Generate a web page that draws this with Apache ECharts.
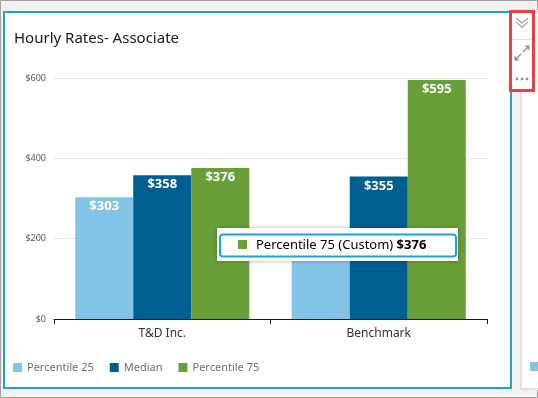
<!DOCTYPE html>
<html lang="en">
<head>
  <meta charset="UTF-8">
  <title>Hourly Rates- Associate</title>
  <script src="https://cdn.jsdelivr.net/npm/echarts@6/dist/echarts.min.js"></script>
  <style>
    html, body {
      margin: 0;
      padding: 0;
      background: #f3f3f3;
      overflow: hidden;
    }
    #main {
      width: 538px;
      height: 398px;
    }
  </style>
</head>
<body>
  <div id="main"></div>

  <script>
    // data
    const categories = ['T&D Inc.', 'Benchmark'];
    const seriesNames = ['Percentile 25', 'Median', 'Percentile 75'];
    const percentile25 = [303, 215];
    const median = [358, 355];
    const percentile75 = [376, 595];
    const seriesColors = ['#84c3e8', '#015e91', '#689f38'];
    const yMin = 0, yMax = 600, yStep = 200;

    // hovered item shown in the tooltip box
    const tipName = seriesNames[2] + ' (Custom)';
    const tipValue = percentile75[0];

    var chartDom = document.getElementById('main');
    var myChart = echarts.init(chartDom);
    var font = '"Noto Sans", sans-serif';

    function barSeries(name, data, color) {
      return {
        name: name,
        type: 'bar',
        data: data,
        barGap: 0,
        barCategoryGap: '19.6%',
        itemStyle: { color: color },
        label: {
          show: true,
          position: 'insideTop',
          distance: 3,
          color: '#ffffff',
          fontWeight: 'bold',
          fontSize: 13,
          fontFamily: font,
          formatter: p => '$' + p.value
        },
        emphasis: { disabled: true }
      };
    }

    var option = {
      animation: false,
      backgroundColor: 'transparent',
      textStyle: { fontFamily: font },
      title: {
        text: 'Hourly Rates- Associate',
        left: 9,
        top: 26,
        textStyle: { fontSize: 15, fontWeight: 'normal', color: '#16191f', fontFamily: font }
      },
      legend: {
        left: 8,
        top: 357,
        icon: 'rect',
        itemWidth: 9,
        itemHeight: 9,
        itemGap: 16,
        selectedMode: false,
        textStyle: { fontSize: 11, color: '#687078', fontFamily: font },
        data: seriesNames
      },
      grid: { left: 54, right: 51, top: 78, bottom: 79 },
      xAxis: {
        type: 'category',
        data: categories,
        axisLine: { lineStyle: { color: '#16191f', width: 1 } },
        axisTick: { show: true, length: 5, lineStyle: { color: '#16191f' } },
        axisLabel: { color: '#333', fontSize: 12, margin: 9, fontFamily: font }
      },
      yAxis: {
        type: 'value',
        min: yMin,
        max: yMax,
        interval: yStep,
        axisLine: { show: false },
        axisTick: { show: false },
        axisLabel: { color: '#545b64', fontSize: 9, margin: 8, fontFamily: font, formatter: v => '$' + v },
        splitLine: { lineStyle: { color: '#e4e6e8' } }
      },
      series: [
        barSeries(seriesNames[0], percentile25, seriesColors[0]),
        barSeries(seriesNames[1], median, seriesColors[1]),
        barSeries(seriesNames[2], percentile75, seriesColors[2])
      ],
      graphic: [
        // outer frame
        { type: 'rect', z: -10, shape: { x: 0.5, y: 0.5, width: 537, height: 397 },
          style: { fill: '#f3f3f3', stroke: '#a3a3a3', lineWidth: 1 } },
        // neighbour card on the right
        { type: 'rect', z: -9, shape: { x: 521, y: 11, width: 30, height: 378 },
          style: { fill: '#ffffff', stroke: '#e3e3e3', lineWidth: 2 } },
        { type: 'rect', z: -8, shape: { x: 530, y: 362, width: 8, height: 9 },
          style: { fill: seriesColors[0] } },
        // selected card
        { type: 'rect', z: -7, shape: { x: 4, y: 12, width: 507, height: 376 },
          style: { fill: '#ffffff', stroke: '#20a0d8', lineWidth: 2 } },
        // toolbar with red highlight
        { type: 'rect', z: 50, shape: { x: 510.5, y: 11.5, width: 23, height: 79 },
          style: { fill: '#ffffff', stroke: '#ee3f3f', lineWidth: 3 } },
        { type: 'polyline', z: 51, shape: { points: [[516, 18], [522, 23], [528, 18]] },
          style: { stroke: '#a8aeb3', lineWidth: 1.5, fill: null } },
        { type: 'polyline', z: 51, shape: { points: [[516, 22], [522, 27], [528, 22]] },
          style: { stroke: '#a8aeb3', lineWidth: 1.5, fill: null } },
        { type: 'line', z: 51, shape: { x1: 512, y1: 39.5, x2: 532, y2: 39.5 },
          style: { stroke: '#e1e1e1', lineWidth: 1 } },
        { type: 'line', z: 51, shape: { x1: 523, y1: 52, x2: 528, y2: 47 },
          style: { stroke: '#8f969c', lineWidth: 1.5 } },
        { type: 'polygon', z: 51, shape: { points: [[529.5, 45.5], [529.5, 50.5], [524.5, 45.5]] },
          style: { fill: '#8f969c' } },
        { type: 'line', z: 51, shape: { x1: 521, y1: 54, x2: 516, y2: 59 },
          style: { stroke: '#8f969c', lineWidth: 1.5 } },
        { type: 'polygon', z: 51, shape: { points: [[514.5, 60.5], [514.5, 55.5], [519.5, 60.5]] },
          style: { fill: '#8f969c' } },
        { type: 'circle', z: 51, shape: { cx: 517, cy: 79, r: 1.4 }, style: { fill: '#8f969c' } },
        { type: 'circle', z: 51, shape: { cx: 522, cy: 79, r: 1.4 }, style: { fill: '#8f969c' } },
        { type: 'circle', z: 51, shape: { cx: 527, cy: 79, r: 1.4 }, style: { fill: '#8f969c' } },
        // tooltip box
        { type: 'rect', z: 60, shape: { x: 217, y: 228, width: 241, height: 33 },
          style: { fill: '#ffffff', shadowBlur: 4, shadowColor: 'rgba(0,0,0,0.3)', shadowOffsetY: 0 } },
        { type: 'rect', z: 61, shape: { x: 220, y: 234.5, width: 236, height: 22, r: 3 },
          style: { fill: '#ffffff', stroke: '#20a0d8', lineWidth: 2 } },
        { type: 'rect', z: 62, shape: { x: 238, y: 240, width: 9, height: 9 },
          style: { fill: seriesColors[2] } },
        { type: 'text', z: 62, x: 256, y: 245.5,
          style: {
            text: '{n|' + tipName + '} {v|$' + tipValue + '}',
            verticalAlign: 'middle',
            rich: {
              n: { fontSize: 13, color: '#16191f', fontFamily: font },
              v: { fontSize: 13, color: '#16191f', fontWeight: 'bold', fontFamily: font }
            }
          } }
      ]
    };

    myChart.setOption(option);
  </script>
</body>
</html>
